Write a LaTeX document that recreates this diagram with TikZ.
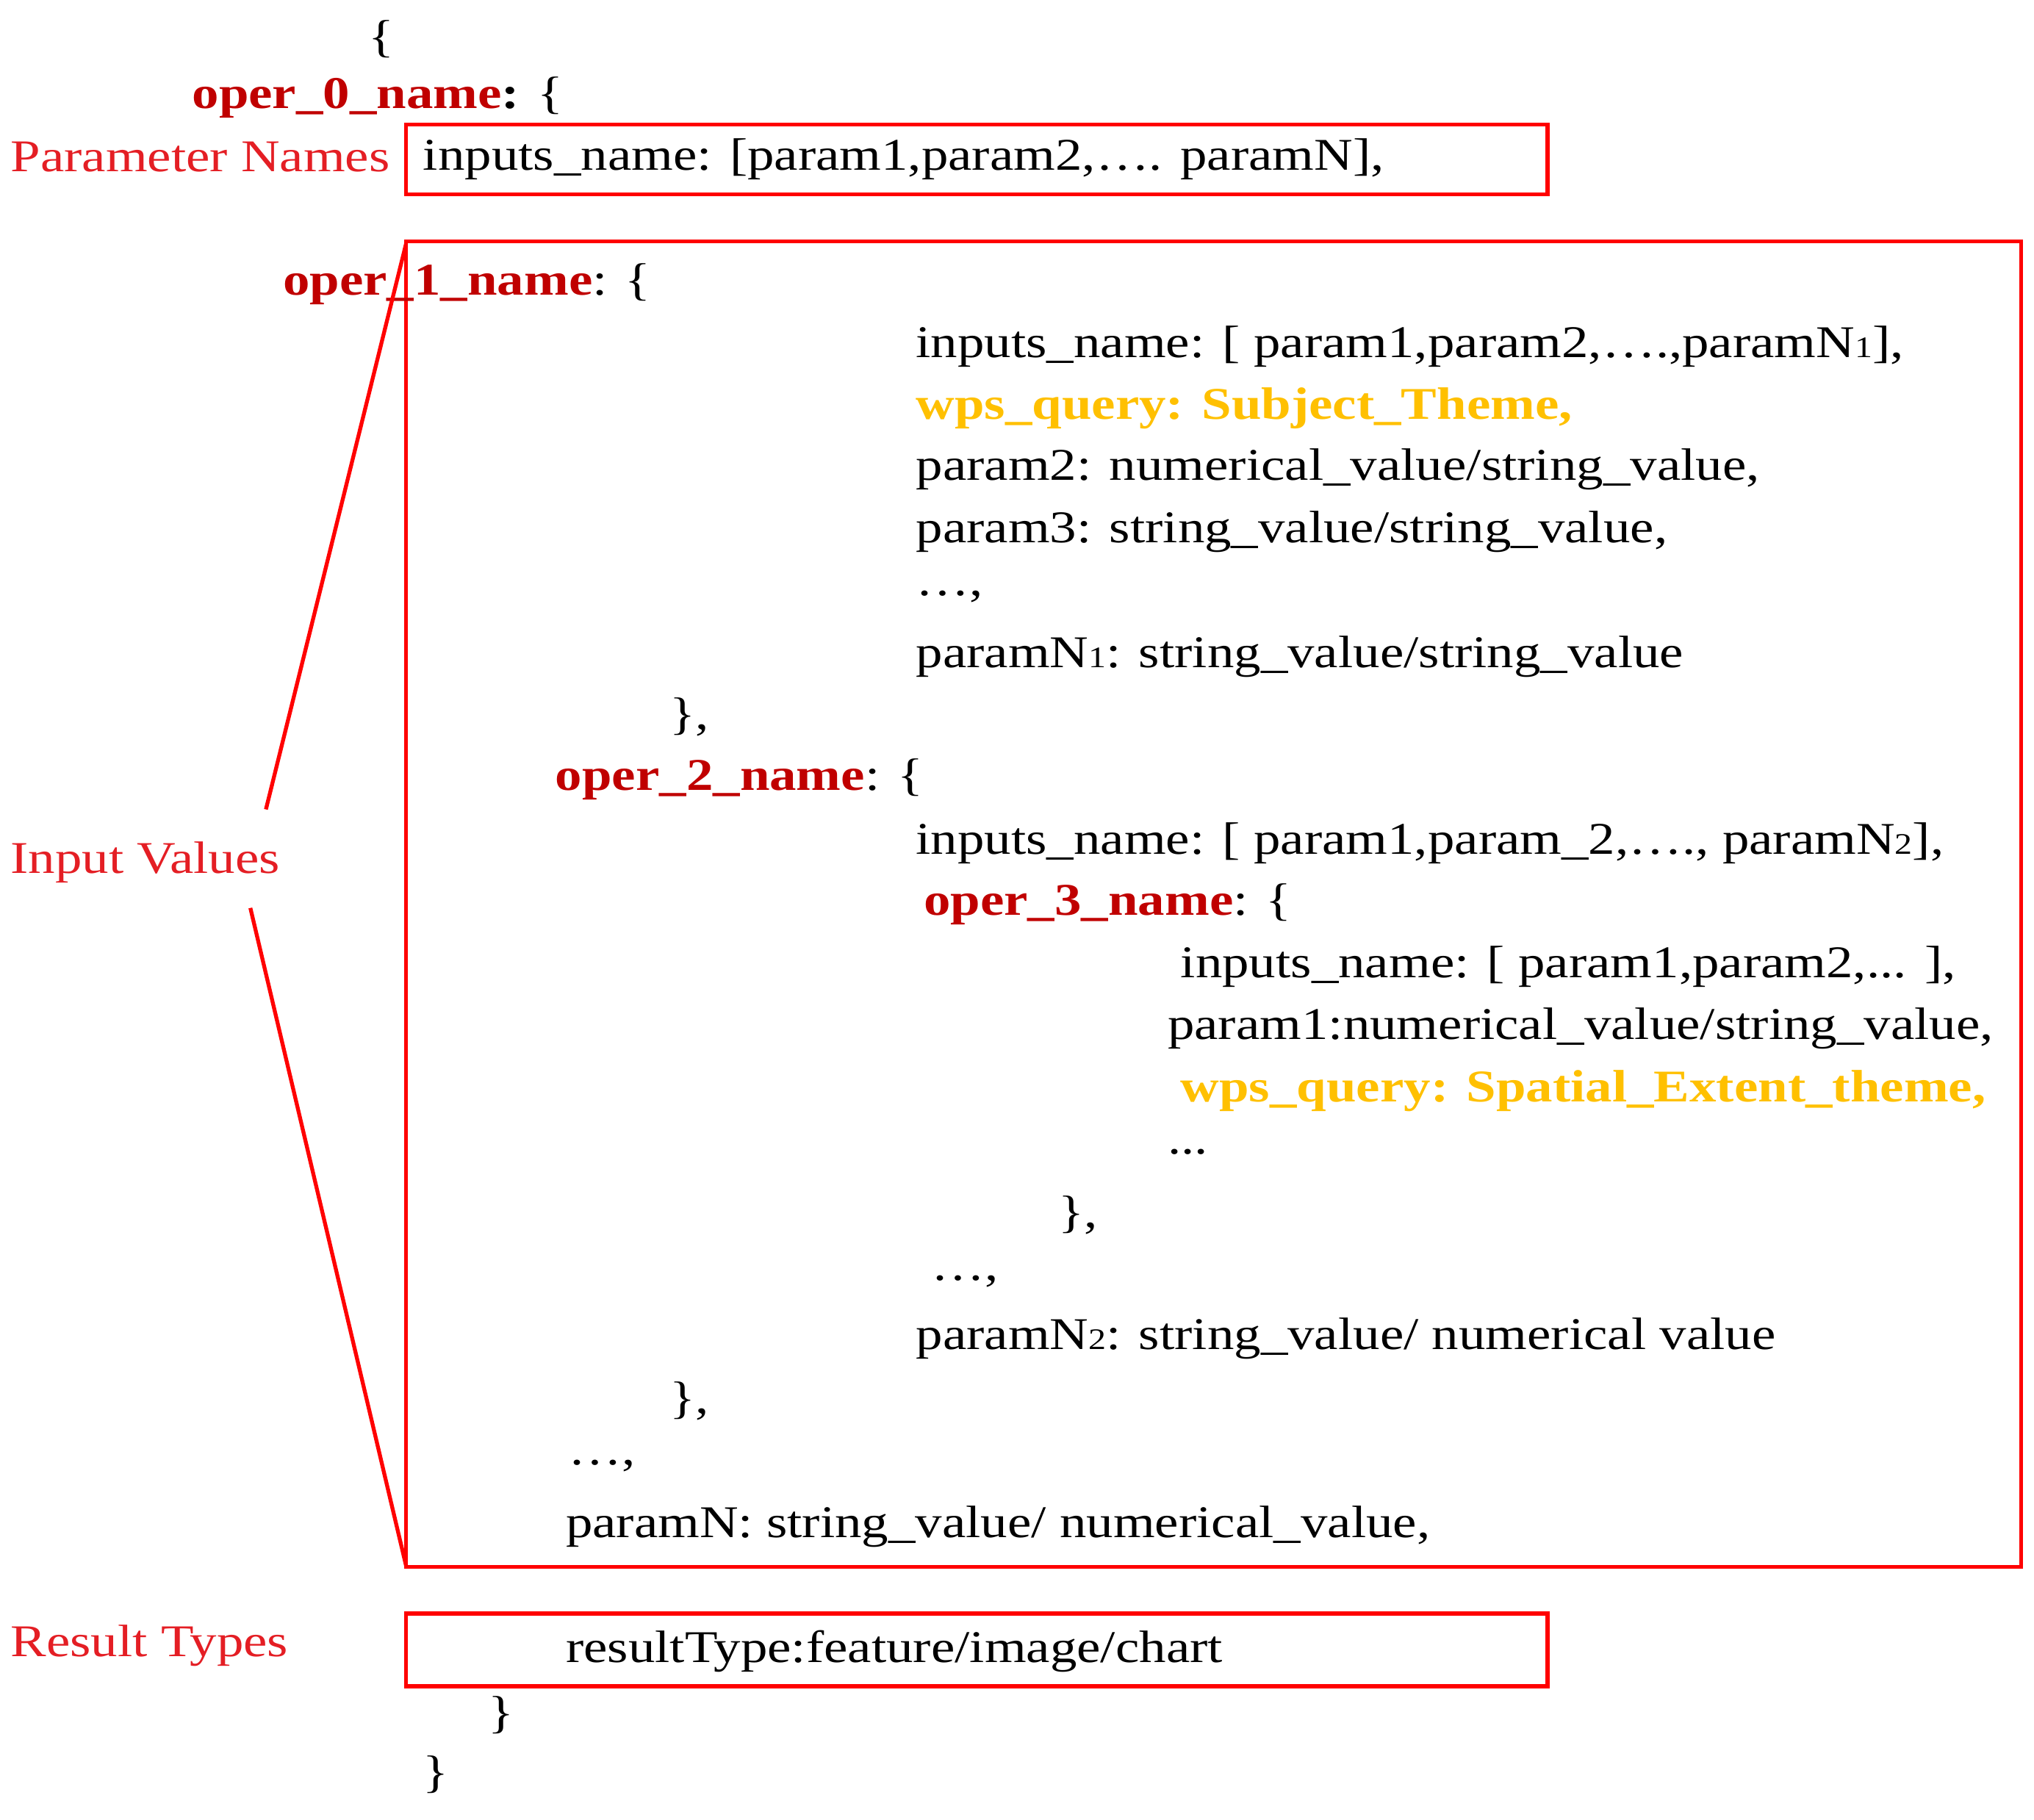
\documentclass[tikz,border=0pt]{standalone}
\usepackage{fontspec}
\setmainfont{Liberation Serif}[FakeStretch=1.18]
\begin{document}
\begin{tikzpicture}[x=1pt,y=-1pt,
 t/.style={anchor=west,inner sep=0pt,font=\fontsize{35}{38}\selectfont},
 op/.style={t,text=opred,font=\fontsize{35}{38}\selectfont\bfseries},
 lab/.style={t,text=labred},
 wq/.style={t,text=wpsor,font=\fontsize{35}{38}\selectfont\bfseries},
 rbox/.style={draw=boxred,line width=3pt}]
\definecolor{opred}{RGB}{192,0,0}
\definecolor{labred}{RGB}{228,30,36}
\definecolor{boxred}{RGB}{255,0,0}
\definecolor{wpsor}{RGB}{255,192,0}
\newcommand{\sbn}[1]{{\fontsize{23}{25}\selectfont #1}}
\newcommand{\blk}[1]{\textcolor{black}{#1}}
\useasboundingbox (0,0) rectangle (1568,1403);
\node[t] (b0) at (284,30) {\{};
\node[op] (o0) at (148,75) {oper\_0\_name\blk{: \textnormal{\{}}};
\node[lab] (pn) at (8,121) {Parameter Names};
\draw[rbox] (313,96) rectangle (1193,150);
\node[t] (in0) at (326,123) {inputs\_name: [param1,param2,…. paramN],};
\draw[rbox] (313,186) rectangle (1558,1208);
\coordinate (bt) at (313,188);
\coordinate (bb) at (313,1207);
\node[op] (o1) at (218,219) {oper\_1\_name\blk{\textnormal{: \{}}};
\node[t] at (706,267) {inputs\_name: [ param1,param2,….,paramN\sbn{1}],};
\node[wq] at (706,315) {wps\_query: Subject\_Theme,};
\node[t] at (706,362) {param2: numerical\_value/string\_value,};
\node[t] at (706,410) {param3: string\_value/string\_value,};
\node[t] at (706,460) {…,};
\node[t] at (706,506) {paramN\sbn{1}: string\_value/string\_value};
\node[t] at (516,553) {\},};
\node[op] (o2) at (428,601) {oper\_2\_name\blk{\textnormal{: \{}}};
\node[t] at (706,650) {inputs\_name: [ param1,param\_2,…., paramN\sbn{2}],};
\node[op] (o3) at (712,697) {oper\_3\_name\blk{\textnormal{: \{}}};
\node[t] at (910,745) {inputs\_name: [ param1,param2,... ],};
\node[t] at (900,793) {param1:numerical\_value/string\_value,};
\node[wq] at (910,841) {wps\_query: Spatial\_Extent\_theme,};
\node[t] at (900,888) {...};
\node[t] at (816,937) {\},};
\node[t] at (718,988) {…,};
\node[t] at (706,1032) {paramN\sbn{2}: string\_value/ numerical value};
\node[t] at (516,1080) {\},};
\node[t] at (438,1130) {…,};
\node[t] at (436,1177) {paramN: string\_value/ numerical\_value,};
\node[lab] (iv) at (8,665) {Input Values};
\coordinate (iva) at (205,624);
\coordinate (ivb) at (193,700);
\draw[boxred,line width=3pt] (iva) -- (bt);
\draw[boxred,line width=3pt] (ivb) -- (bb);
\node[lab] (rt) at (8,1269) {Result Types};
\draw[rbox] (313,1244) rectangle (1193,1300);
\node[t] (rtt) at (436,1273) {resultType:feature/image/chart};
\node[t] at (376,1322) {\}};
\node[t] at (326,1368) {\}};
\end{tikzpicture}
\end{document}
